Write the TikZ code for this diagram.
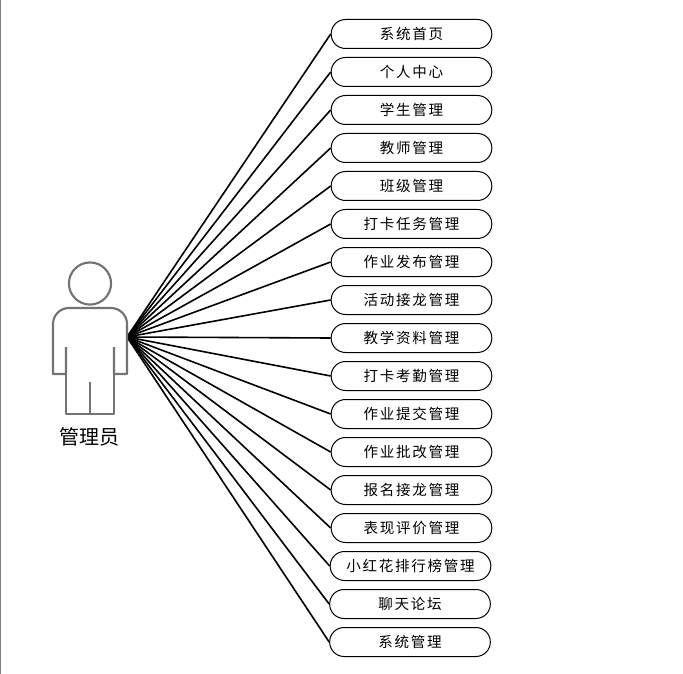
\documentclass[tikz,border=0pt]{standalone}
\usepackage{fontspec}
\setmainfont{Noto Sans CJK SC}[LetterSpace=12]
\newfontfamily\actorfont{Noto Sans CJK SC}
\begin{document}
\begin{tikzpicture}[x=0.75pt,y=-0.75pt,
  usecase/.style={draw=black,line width=0.75pt,fill=white,rounded corners=10.8pt,minimum width=120.5pt,minimum height=21.75pt,inner sep=0pt,font=\fontsize{10.9pt}{12pt}\selectfont},
  link/.style={draw=black,line width=1.2pt},
  figure/.style={draw=black!55,line width=1.6pt,line join=round}]
\useasboundingbox (0,0) rectangle (683,674);
\fill[black!50] (0,0) rectangle (1.5,674);
\coordinate (hub) at (127,337);
\foreach \n/\cx/\cy/\t in {a/411.5/34/系统首页,b/411.5/72/个人中心,c/411.5/110/学生管理,d/411.5/148/教师管理,e/411.5/186/班级管理,f/411.5/224/打卡任务管理,g/411.5/262/作业发布管理,h/411.5/300/活动接龙管理,i/411.5/338/教学资料管理,j/411.5/376/打卡考勤管理,k/411.5/414/作业提交管理,l/411.5/452/作业批改管理,m/411.5/490/报名接龙管理,n/411.5/528/表现评价管理,o/410.5/566/小红花排行榜管理,p/410/604/聊天论坛,q/410/642/系统管理}{
  \node[usecase] (\n) at (\cx,\cy) {\t};
  \draw[link] (hub) -- (\n.west);
}
\draw[figure] (90,283.5) circle (15.8pt);
\draw[figure] (66,347) -- (66,374) -- (53,374) -- (53,324) arc[start angle=180,end angle=90,radius=12pt] -- (111,308) arc[start angle=90,end angle=0,radius=12pt] -- (127,374) -- (114,374) -- (114,347);
\draw[figure] (66,374) -- (66,414) -- (114,414) -- (114,374);
\draw[figure] (90,382) -- (90,414);
\node[font=\actorfont\fontsize{15pt}{16pt}\selectfont,inner sep=0pt] (actor) at (90,437) {管理员};
\end{tikzpicture}
\end{document}
